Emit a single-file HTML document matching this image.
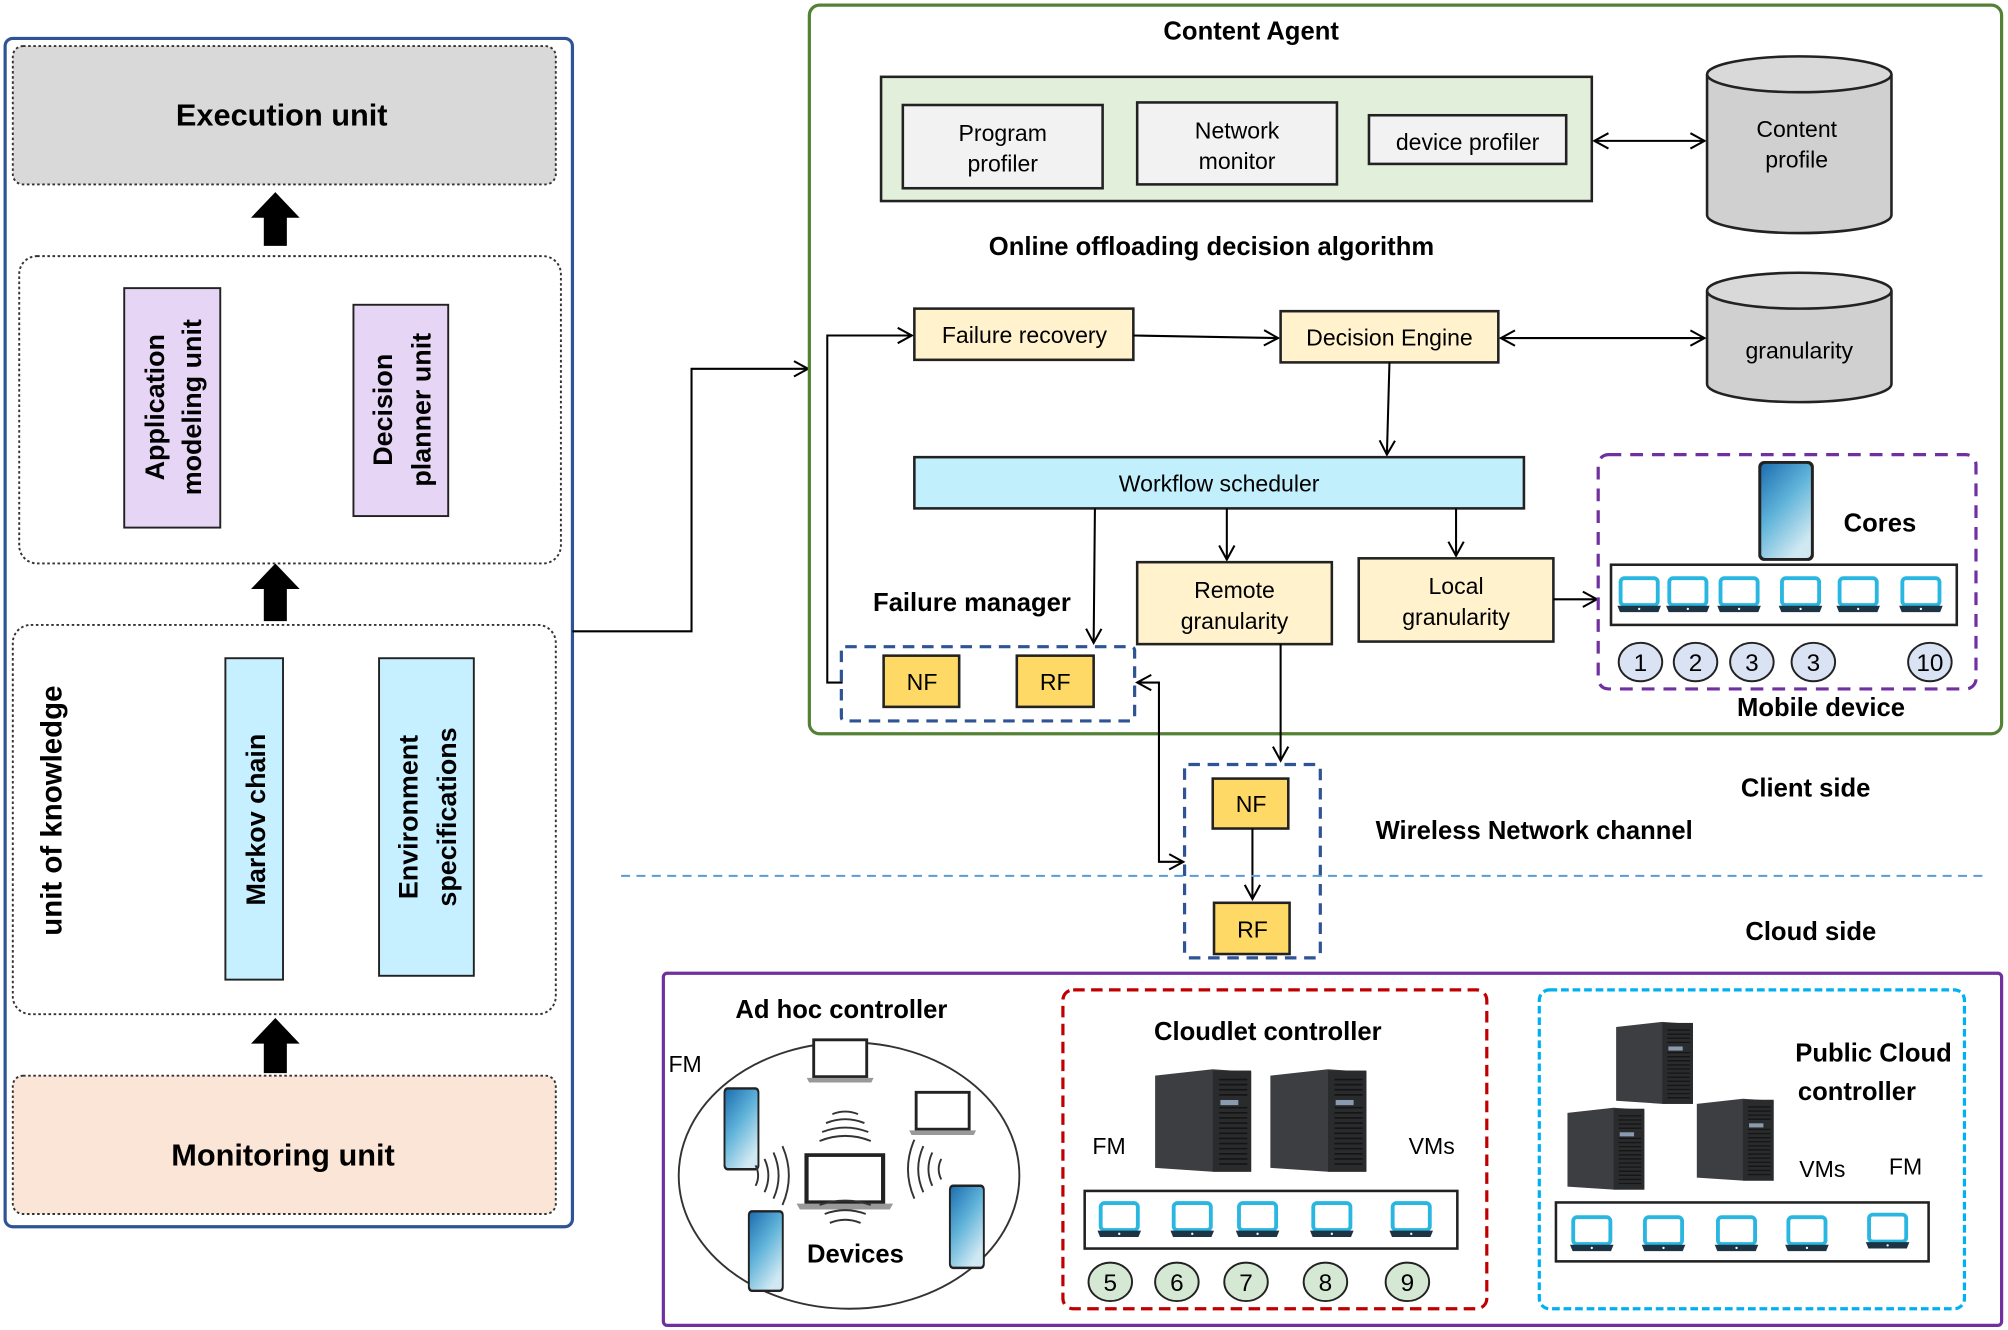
<!DOCTYPE html>
<html><head><meta charset="utf-8"><style>
html,body{margin:0;padding:0;background:#fff}
svg{display:block}
text{font-family:"Liberation Sans",sans-serif;fill:#000}
.b{font-weight:bold}
</style></head><body>
<svg width="2008" height="1330" viewBox="0 0 1568 1038.6" preserveAspectRatio="none" xmlns="http://www.w3.org/2000/svg">
<defs>
<marker id="a" markerWidth="14" markerHeight="14" refX="12" refY="7" orient="auto" markerUnits="userSpaceOnUse"><path d="M1,1 L12,7 L1,13" fill="none" stroke="#000" stroke-width="1.6"/></marker>
<marker id="as" markerWidth="14" markerHeight="14" refX="2" refY="7" orient="auto" markerUnits="userSpaceOnUse"><path d="M13,1 L2,7 L13,13" fill="none" stroke="#000" stroke-width="1.6"/></marker>
<g id="lap"><rect x="1.5" y="1.5" width="29" height="21" rx="3" fill="#fff" stroke="#29b6e0" stroke-width="3"/><path d="M-1,23 H33 L31,28 H1 Z" fill="#1d3445"/><circle cx="16" cy="25.5" r="0.9" fill="#fff"/></g>
<linearGradient id="pg" x1="0" y1="0" x2="0.6" y2="1"><stop offset="0" stop-color="#1e6fb0"/><stop offset="0.5" stop-color="#5fb3d9"/><stop offset="1" stop-color="#cfe8f2"/></linearGradient>
<g id="ph"><rect x="0" y="0" width="28" height="52" rx="3" fill="#222"/><rect x="1.5" y="1.5" width="25" height="49" rx="2" fill="url(#pg)"/></g>
<g id="srv"><path d="M0,5 L45,0 L75,2 L75,80 L45,80 L0,77 Z" fill="#3d3e41"/><rect x="45" y="1" width="30" height="79" fill="#2a2b2d"/><g stroke="#151515" stroke-width="1.3"><path d="M50,8H72M50,12H72M50,16H72M50,20H72M50,30H72M50,34H72M50,38H72M50,42H72M50,46H72M50,50H72M50,54H72M50,58H72M50,62H72M50,66H72M50,70H72M50,74H72"/></g><rect x="51" y="24" width="14" height="4" fill="#8a9bb0"/></g>
<g id="lo"><rect x="6" y="0" width="46" height="32" fill="#fff" stroke="#222" stroke-width="2.5"/><path d="M0,33 H58 L56,37 H2 Z" fill="#999"/></g>
</defs>

<!-- LEFT -->
<rect x="4" y="30" width="443" height="928" rx="6" fill="#fff" stroke="#2f5496" stroke-width="2.5"/>
<rect x="10" y="36" width="424" height="108" rx="8" fill="#d9d9d9" stroke="#333" stroke-width="1.5" stroke-dasharray="2 2"/>
<text x="220" y="98" font-size="24" text-anchor="middle" class="b">Execution unit</text>
<path d="M215,150 L196,170 L206,170 L206,192 L224,192 L224,170 L234,170 Z"/>
<rect x="15" y="200" width="423" height="240" rx="14" fill="#fff" stroke="#333" stroke-width="1.5" stroke-dasharray="2 2"/>
<rect x="97" y="225" width="75" height="187" fill="#e6d5f5" stroke="#222" stroke-width="1.5"/>
<text transform="translate(128,318) rotate(-90)" font-size="21" text-anchor="middle" class="b">Application</text>
<text transform="translate(157,318) rotate(-90)" font-size="21" text-anchor="middle" class="b">modeling unit</text>
<rect x="276" y="238" width="74" height="165" fill="#e6d5f5" stroke="#222" stroke-width="1.5"/>
<text transform="translate(306,320) rotate(-90)" font-size="21" text-anchor="middle" class="b">Decision</text>
<text transform="translate(336,320) rotate(-90)" font-size="21" text-anchor="middle" class="b">planner unit</text>
<path d="M215,440 L196,460 L206,460 L206,485 L224,485 L224,460 L234,460 Z"/>
<rect x="10" y="488" width="424" height="304" rx="14" fill="#fff" stroke="#333" stroke-width="1.5" stroke-dasharray="2 2"/>
<text transform="translate(48,633) rotate(-90)" font-size="23" text-anchor="middle" class="b">unit of knowledge</text>
<rect x="176" y="514" width="45" height="251" fill="#c6efff" stroke="#222" stroke-width="1.5"/>
<text transform="translate(207,640) rotate(-90)" font-size="21" text-anchor="middle" class="b">Markov chain</text>
<rect x="296" y="514" width="74" height="248" fill="#c6efff" stroke="#222" stroke-width="1.5"/>
<text transform="translate(326,638) rotate(-90)" font-size="21" text-anchor="middle" class="b">Environment</text>
<text transform="translate(356,638) rotate(-90)" font-size="21" text-anchor="middle" class="b">specifications</text>
<path d="M215,795 L196,815 L206,815 L206,838 L224,838 L224,815 L234,815 Z"/>
<rect x="10" y="840" width="424" height="108" rx="8" fill="#fbe5d6" stroke="#333" stroke-width="1.5" stroke-dasharray="2 2"/>
<text x="221" y="910" font-size="24" text-anchor="middle" class="b">Monitoring unit</text>
<path d="M447,493 H540 V288 H631" fill="none" stroke="#000" stroke-width="1.6" marker-end="url(#a)"/>

<!-- CONTENT AGENT -->
<rect x="632" y="4" width="931" height="569" rx="8" fill="none" stroke="#548235" stroke-width="2.5"/>
<text x="977" y="31" font-size="20" text-anchor="middle" class="b">Content Agent</text>
<rect x="688" y="60" width="555" height="97" fill="#e2efda" stroke="#222" stroke-width="2"/>
<rect x="705" y="82" width="156" height="65" fill="#f2f2f2" stroke="#222" stroke-width="2"/>
<text x="783" y="110" font-size="18" text-anchor="middle">Program</text><text x="783" y="134" font-size="18" text-anchor="middle">profiler</text>
<rect x="888" y="80" width="156" height="64" fill="#f2f2f2" stroke="#222" stroke-width="2"/>
<text x="966" y="108" font-size="18" text-anchor="middle">Network</text><text x="966" y="132" font-size="18" text-anchor="middle">monitor</text>
<rect x="1069" y="90" width="154" height="38" fill="#f2f2f2" stroke="#222" stroke-width="2"/>
<text x="1146" y="117" font-size="18" text-anchor="middle">device profiler</text>
<path d="M1245,110 H1331" stroke="#000" stroke-width="1.6" marker-start="url(#as)" marker-end="url(#a)"/>
<path d="M1333,58 V168 A72,14 0 0 0 1477,168 V58" fill="#d0d0d0" stroke="#222" stroke-width="2"/>
<ellipse cx="1405" cy="58" rx="72" ry="14" fill="#d9d9d9" stroke="#222" stroke-width="2"/>
<text x="1403" y="107" font-size="18" text-anchor="middle">Content</text><text x="1403" y="131" font-size="18" text-anchor="middle">profile</text>
<path d="M1333,227 V300 A72,14 0 0 0 1477,300 V227" fill="#d0d0d0" stroke="#222" stroke-width="2"/>
<ellipse cx="1405" cy="227" rx="72" ry="14" fill="#d9d9d9" stroke="#222" stroke-width="2"/>
<text x="1405" y="280" font-size="18" text-anchor="middle">granularity</text>
<text x="946" y="199" font-size="20" text-anchor="middle" class="b">Online offloading decision algorithm</text>

<rect x="714" y="241" width="171" height="40" fill="#fff2cc" stroke="#222" stroke-width="2"/>
<text x="800" y="268" font-size="18" text-anchor="middle">Failure recovery</text>
<rect x="1000" y="243" width="170" height="40" fill="#fff2cc" stroke="#222" stroke-width="2"/>
<text x="1085" y="270" font-size="18" text-anchor="middle">Decision Engine</text>
<path d="M885,262 L998,264" stroke="#000" stroke-width="1.6" marker-end="url(#a)"/>
<path d="M1172,264 H1331" stroke="#000" stroke-width="1.6" marker-start="url(#as)" marker-end="url(#a)"/>
<path d="M658,533 H646 V262 H712" fill="none" stroke="#000" stroke-width="1.6" marker-end="url(#a)"/>
<path d="M1085,283 L1083,355" stroke="#000" stroke-width="1.6" marker-end="url(#a)"/>
<rect x="714" y="357" width="476" height="40" fill="#c2effc" stroke="#222" stroke-width="2"/>
<text x="952" y="384" font-size="18" text-anchor="middle">Workflow scheduler</text>
<path d="M855,397 L854,502" stroke="#000" stroke-width="1.6" marker-end="url(#a)"/>
<path d="M958,397 V437" stroke="#000" stroke-width="1.6" marker-end="url(#a)"/>
<path d="M1137,397 V434" stroke="#000" stroke-width="1.6" marker-end="url(#a)"/>
<rect x="888" y="439" width="152" height="64" fill="#fff2cc" stroke="#222" stroke-width="2"/>
<text x="964" y="467" font-size="18" text-anchor="middle">Remote</text><text x="964" y="491" font-size="18" text-anchor="middle">granularity</text>
<rect x="1061" y="436" width="152" height="65" fill="#fff2cc" stroke="#222" stroke-width="2"/>
<text x="1137" y="464" font-size="18" text-anchor="middle">Local</text><text x="1137" y="488" font-size="18" text-anchor="middle">granularity</text>
<path d="M1213,468 H1247" stroke="#000" stroke-width="1.6" marker-end="url(#a)"/>
<text x="759" y="477" font-size="20" text-anchor="middle" class="b">Failure manager</text>
<rect x="657" y="505" width="229" height="58" rx="3" fill="none" stroke="#2f5496" stroke-width="2.5" stroke-dasharray="9 6"/>
<rect x="690" y="512" width="59" height="40" fill="#ffd966" stroke="#222" stroke-width="2"/>
<text x="720" y="539" font-size="18" text-anchor="middle">NF</text>
<rect x="794" y="512" width="60" height="40" fill="#ffd966" stroke="#222" stroke-width="2"/>
<text x="824" y="539" font-size="18" text-anchor="middle">RF</text>
<path d="M1000,503 V594" stroke="#000" stroke-width="1.6" marker-end="url(#a)"/>

<!-- Mobile device -->
<rect x="1248" y="355" width="295" height="183" rx="8" fill="none" stroke="#7030a0" stroke-width="2.5" stroke-dasharray="10 7"/>
<g transform="translate(1373,360) scale(1.55,1.5)"><use href="#ph"/></g>
<text x="1468" y="415" font-size="20" text-anchor="middle" class="b">Cores</text>
<rect x="1258" y="441" width="270" height="47" fill="#fff" stroke="#222" stroke-width="2"/>
<use href="#lap" x="1264" y="450"/><use href="#lap" x="1302" y="450"/><use href="#lap" x="1342" y="450"/><use href="#lap" x="1390" y="450"/><use href="#lap" x="1435" y="450"/><use href="#lap" x="1484" y="450"/>
<g fill="#dae3f3" stroke="#222" stroke-width="1.5">
<ellipse cx="1281" cy="517" rx="17" ry="15"/><ellipse cx="1324" cy="517" rx="17" ry="15"/><ellipse cx="1368" cy="517" rx="17" ry="15"/><ellipse cx="1416" cy="517" rx="17" ry="15"/><ellipse cx="1507" cy="517" rx="17" ry="15"/></g>
<g font-size="19" text-anchor="middle"><text x="1281" y="524">1</text><text x="1324" y="524">2</text><text x="1368" y="524">3</text><text x="1416" y="524">3</text><text x="1507" y="524">10</text></g>
<text x="1422" y="559" font-size="20" text-anchor="middle" class="b">Mobile device</text>

<!-- Wireless -->
<rect x="925" y="597" width="106" height="151" rx="3" fill="none" stroke="#2f5496" stroke-width="2.5" stroke-dasharray="9 6"/>
<rect x="947" y="608" width="59" height="39" fill="#ffd966" stroke="#222" stroke-width="2"/>
<text x="977" y="634" font-size="18" text-anchor="middle">NF</text>
<path d="M978,647 V702" stroke="#000" stroke-width="1.6" marker-end="url(#a)"/>
<rect x="948" y="705" width="59" height="40" fill="#ffd966" stroke="#222" stroke-width="2"/>
<text x="978" y="732" font-size="18" text-anchor="middle">RF</text>
<path d="M888,533 H905 V673 H924" fill="none" stroke="#000" stroke-width="1.6" marker-start="url(#as)" marker-end="url(#a)"/>
<text x="1410" y="622" font-size="20" text-anchor="middle" class="b">Client side</text>
<text x="1198" y="655" font-size="20" text-anchor="middle" class="b">Wireless Network channel</text>
<path d="M485,684 H1548" stroke="#5b9bd5" stroke-width="1.6" stroke-dasharray="7 5"/>
<text x="1414" y="734" font-size="20" text-anchor="middle" class="b">Cloud side</text>

<!-- CLOUD -->
<rect x="518" y="760" width="1045" height="275" rx="3" fill="none" stroke="#7030a0" stroke-width="2.5"/>
<text x="657" y="795" font-size="20" text-anchor="middle" class="b">Ad hoc controller</text>
<text x="535" y="837" font-size="18" text-anchor="middle">FM</text>
<ellipse cx="663" cy="918" rx="133" ry="104" fill="#fff" stroke="#333" stroke-width="1.5"/>
<g transform="translate(630,812) scale(0.9)"><use href="#lo"/></g>
<g transform="translate(710,853) scale(0.9)"><use href="#lo"/></g>
<g transform="translate(622,902) scale(1.3,1.15)"><use href="#lo"/></g>
<g transform="translate(565,849) scale(1,1.25)"><use href="#ph"/></g>
<g transform="translate(584,945) scale(1,1.23)"><use href="#ph"/></g>
<g transform="translate(741,925) scale(1,1.27)"><use href="#ph"/></g>
<g fill="none" stroke="#333" stroke-width="1.5">
<path d="M650,870 Q660,866 670,870 M645,877 Q660,871 675,877 M642,884 Q660,877 678,884 M640,891 Q660,883 680,891"/>
<path d="M648,955 Q660,950 672,955 M644,948 Q660,942 676,948 M640,941 Q660,934 680,941"/>
<path d="M590,910 Q594,918 590,926 M597,905 Q603,918 597,931 M604,900 Q612,918 604,936 M611,895 Q621,918 611,941"/>
<path d="M735,905 Q731,913 735,921 M728,900 Q722,913 728,926 M721,895 Q713,913 721,931 M714,890 Q704,913 714,936"/>
</g>
<text x="668" y="986" font-size="20" text-anchor="middle" class="b">Devices</text>

<rect x="830" y="773" width="331" height="249" rx="8" fill="none" stroke="#c00000" stroke-width="2.5" stroke-dasharray="9 5"/>
<text x="990" y="812" font-size="20" text-anchor="middle" class="b">Cloudlet controller</text>
<use href="#srv" x="902" y="835"/><use href="#srv" x="992" y="835"/>
<text x="866" y="901" font-size="18" text-anchor="middle">FM</text>
<text x="1118" y="901" font-size="18" text-anchor="middle">VMs</text>
<rect x="847" y="930" width="291" height="45" fill="#fff" stroke="#222" stroke-width="2"/>
<use href="#lap" x="858" y="938"/><use href="#lap" x="915" y="938"/><use href="#lap" x="966" y="938"/><use href="#lap" x="1024" y="938"/><use href="#lap" x="1086" y="938"/>
<g fill="#d5e8d4" stroke="#222" stroke-width="1.5">
<ellipse cx="867" cy="1001" rx="17" ry="15"/><ellipse cx="919" cy="1001" rx="17" ry="15"/><ellipse cx="973" cy="1001" rx="17" ry="15"/><ellipse cx="1035" cy="1001" rx="17" ry="15"/><ellipse cx="1099" cy="1001" rx="17" ry="15"/></g>
<g font-size="19" text-anchor="middle"><text x="867" y="1008">5</text><text x="919" y="1008">6</text><text x="973" y="1008">7</text><text x="1035" y="1008">8</text><text x="1099" y="1008">9</text></g>

<rect x="1202" y="773" width="332" height="249" rx="8" fill="none" stroke="#00b0f0" stroke-width="2.5" stroke-dasharray="6 3"/>
<text x="1463" y="829" font-size="20" text-anchor="middle" class="b">Public Cloud</text>
<text x="1450" y="859" font-size="20" text-anchor="middle" class="b">controller</text>
<g transform="translate(1262,798) scale(0.8)"><use href="#srv"/></g>
<g transform="translate(1224,865) scale(0.8)"><use href="#srv"/></g>
<g transform="translate(1325,858) scale(0.8)"><use href="#srv"/></g>
<text x="1423" y="919" font-size="18" text-anchor="middle">VMs</text>
<text x="1488" y="917" font-size="18" text-anchor="middle">FM</text>
<rect x="1215" y="939" width="291" height="46" fill="#fff" stroke="#222" stroke-width="2"/>
<use href="#lap" x="1227" y="949"/><use href="#lap" x="1283" y="949"/><use href="#lap" x="1340" y="949"/><use href="#lap" x="1395" y="949"/><use href="#lap" x="1458" y="947"/>
</svg>
</body></html>
